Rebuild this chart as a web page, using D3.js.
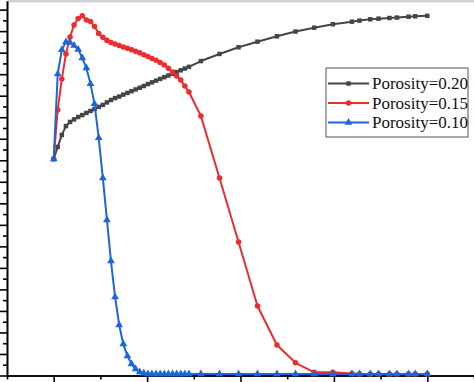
<!DOCTYPE html>
<html>
<head>
<meta charset="utf-8">
<script src="https://cdn.jsdelivr.net/npm/d3@7"></script>
<style>
  html, body { margin: 0; padding: 0; background: #fff; }
  svg { display: block; }
</style>
</head>
<body>
<div id="my_dataviz"></div>
<script>
// time points (x axis units, labels are cropped off in the source picture)
const timeSteps = [
  0, 0.43, 0.87, 1.31, 1.75, 2.18, 2.62, 3.06, 3.5, 3.94, 4.37, 4.82, 5.26, 5.7, 6.13, 6.57, 7.01,
  7.45, 7.89, 8.33, 8.77, 9.21, 9.65, 10.09, 10.52, 10.96, 11.4, 11.84, 12.28, 12.72, 13.16, 13.6,
  14.04, 14.48,
  15.76, 17.75, 19.79, 21.82, 23.9, 25.89, 27.89, 29.89, 31.93, 32.74, 33.89, 34.78, 35.95, 36.75,
  37.99, 38.7, 40
];

const porosity20 = [
  10.06, 10.62, 11.18, 11.59, 11.78, 11.9, 12.01, 12.1, 12.2, 12.29, 12.38, 12.48, 12.57, 12.69,
  12.8, 12.89, 12.96, 13.05, 13.13, 13.21, 13.29, 13.37, 13.45, 13.54, 13.62, 13.7, 13.78, 13.86,
  13.94, 14.02, 14.1, 14.18, 14.26, 14.34,
  14.61, 14.94, 15.25, 15.51, 15.76, 15.98, 16.16, 16.32, 16.44, 16.49, 16.55, 16.58, 16.61, 16.63,
  16.67, 16.69, 16.71
];

const porosity15 = [
  10.06, 12.34, 13.78, 14.94, 15.73, 16.29, 16.59, 16.71, 16.52, 16.45, 16.22, 15.89, 15.71, 15.57,
  15.47, 15.4, 15.33, 15.26, 15.2, 15.13, 15.06, 14.99, 14.9, 14.82, 14.73, 14.65, 14.54, 14.43,
  14.27, 14.1, 13.92, 13.73, 13.45, 13.17,
  12.06, 9.18, 6.2, 3.23, 1.42, 0.59, 0.15, 0.15, 0.09, 0.07, 0.07, 0.07, 0.07, 0.07, 0.07, 0.07, 0.07
];

const porosity10 = [
  10.06, 14.01, 15.13, 15.5, 15.47, 15.33, 15.15, 14.75, 14.29, 13.55, 12.62, 11.04, 9.18, 7.23,
  5.32, 3.65, 2.35, 1.46, 0.91, 0.53, 0.3, 0.16, 0.1, 0.07, 0.07, 0.07, 0.07, 0.07, 0.07, 0.07,
  0.07, 0.07, 0.07, 0.07,
  0.07, 0.07, 0.07, 0.07, 0.07, 0.07, 0.07, 0.07, 0.07, 0.07, 0.07, 0.07, 0.07, 0.07, 0.07, 0.07, 0.07
];

const seriesNames = ['Porosity=0.20', 'Porosity=0.15', 'Porosity=0.10'];
const seriesValues = [porosity20, porosity15, porosity10];
const seriesColors = ['#454545', '#ec2d2d', '#1d65dc'];
const seriesShapes = [d3.symbolSquare, d3.symbolCircle, d3.symbolTriangle];
const shapeSizes = [20, 24, 26];

const xMajorTicks = [0, 10, 20, 30, 40];
const xMinorTicks = [-5, 5, 15, 25, 35, 45];
const yMajorTicks = d3.range(0, 18);
const yMinorTicks = d3.range(0, 17).map(d => d + 0.5);

const width = 474, height = 382;

const svg = d3.select('#my_dataviz')
  .append('svg')
  .attr('width', width)
  .attr('height', height);

const x = d3.scaleLinear().domain([-5, 45]).range([7, 474]);
const y = d3.scaleLinear().domain([0, 17.4]).range([375.5, 1]);

// faint frame line on top (cut by the crop)
svg.append('line')
  .attr('x1', 8).attr('x2', width)
  .attr('y1', 1).attr('y2', 1)
  .attr('stroke', '#d2d2d2')
  .attr('stroke-width', 3);

// axes: ticks only, labels are outside the picture
const axisStyle = g => {
  g.selectAll('path').attr('stroke', '#000').attr('stroke-width', 1.6);
  g.selectAll('line').attr('stroke', '#000').attr('stroke-width', 1.6);
  g.selectAll('text').remove();
};

svg.append('g')
  .attr('transform', 'translate(7,0)')
  .call(d3.axisLeft(y).tickValues(yMinorTicks).tickSize(4).tickSizeOuter(0).tickFormat(''))
  .call(axisStyle);
svg.append('g')
  .attr('transform', 'translate(7,0)')
  .call(d3.axisLeft(y).tickValues(yMajorTicks).tickSize(7).tickSizeOuter(0).tickFormat(''))
  .call(axisStyle);

svg.append('g')
  .attr('transform', 'translate(0,' + y(0) + ')')
  .call(d3.axisBottom(x).tickValues(xMinorTicks).tickSize(4).tickSizeOuter(0).tickFormat(''))
  .call(axisStyle);
svg.append('g')
  .attr('transform', 'translate(0,' + y(0) + ')')
  .call(d3.axisBottom(x).tickValues(xMajorTicks).tickSize(7).tickSizeOuter(0).tickFormat(''))
  .call(axisStyle);

// the three curves with their markers
const line = d3.line()
  .x((d, i) => x(timeSteps[i]))
  .y(d => y(d));

seriesValues.forEach((values, k) => {
  svg.append('path')
    .datum(values)
    .attr('fill', 'none')
    .attr('stroke', seriesColors[k])
    .attr('stroke-width', 2)
    .attr('stroke-linejoin', 'round')
    .attr('d', line);

  svg.append('g')
    .selectAll('path')
    .data(values)
    .enter()
    .append('path')
    .attr('transform', (d, i) => 'translate(' + x(timeSteps[i]) + ',' + y(d) + ')')
    .attr('d', d3.symbol().type(seriesShapes[k]).size(shapeSizes[k]))
    .attr('fill', seriesColors[k]);
});

// legend
const legend = svg.append('g').attr('transform', 'translate(326,68)');
legend.append('rect')
  .attr('width', 142).attr('height', 69)
  .attr('fill', '#fff')
  .attr('stroke', '#555')
  .attr('stroke-width', 1);

seriesNames.forEach((name, k) => {
  const ly = 15.5 + k * 19.5;
  legend.append('line')
    .attr('x1', 2).attr('x2', 43)
    .attr('y1', ly).attr('y2', ly)
    .attr('stroke', seriesColors[k])
    .attr('stroke-width', 2);
  legend.append('path')
    .attr('transform', 'translate(22.5,' + ly + ')')
    .attr('d', d3.symbol().type(seriesShapes[k]).size(shapeSizes[k]))
    .attr('fill', seriesColors[k]);
  legend.append('text')
    .attr('x', 46)
    .attr('y', ly)
    .attr('dy', '0.35em')
    .attr('font-family', '"Liberation Serif", "Times New Roman", serif')
    .attr('font-size', 17)
    .attr('fill', '#111')
    .text(name);
});
</script>
</body>
</html>
